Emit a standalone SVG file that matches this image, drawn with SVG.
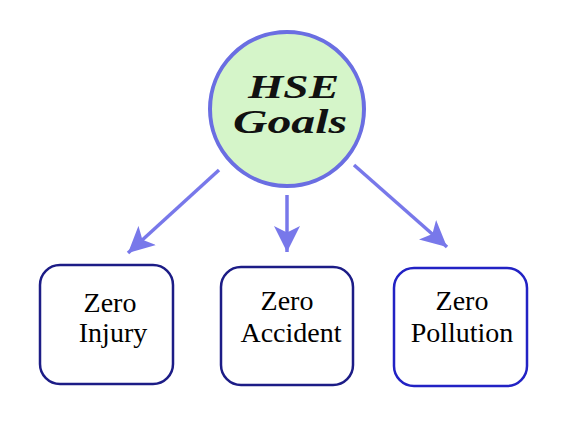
<svg xmlns="http://www.w3.org/2000/svg" width="576" height="426" viewBox="0 0 576 426">
<style>
.box{fill:#ffffff;stroke-width:2.5}
.lbl{font-family:"Liberation Serif","Times New Roman",serif;font-size:28px;fill:#000;text-anchor:middle}
.title{font-family:"Liberation Serif","Times New Roman",serif;font-weight:bold;font-style:italic;font-size:33px;fill:#111}
.conn{stroke:#7878ea;stroke-width:3.5;fill:none}
</style>
<defs>
<marker id="ahl" viewBox="0 0 24 24" refX="24" refY="12" markerWidth="26" markerHeight="26" markerUnits="userSpaceOnUse" orient="auto">
<path d="M0,0 L24,12 L0,24 L6,12 Z" fill="#7878ea"/>
</marker>
</defs>
<rect width="576" height="426" fill="#ffffff"/>
<g id="connectors">
<line class="conn" x1="219" y1="170" x2="128" y2="253" marker-end="url(#ahl)"/>
<line class="conn" x1="287" y1="195" x2="287" y2="252" marker-end="url(#ahl)"/>
<line class="conn" x1="354" y1="165" x2="447" y2="247" marker-end="url(#ahl)"/>
</g>
<g id="hse-goals">
<circle cx="287" cy="109" r="77" fill="#d5f5c9" stroke="#6a6ee2" stroke-width="4"/>
<text class="title" x="248" y="98" textLength="91" lengthAdjust="spacingAndGlyphs">HSE</text>
<text class="title" x="233" y="133" textLength="114" lengthAdjust="spacingAndGlyphs">Goals</text>
</g>
<g id="zero-injury">
<rect class="box" x="40" y="265" width="133" height="119" rx="20" stroke="#1c1c86"/>
<text class="lbl" x="110" y="312">Zero</text>
<text class="lbl" x="113" y="342">Injury</text>
</g>
<g id="zero-accident">
<rect class="box" x="221" y="267" width="132" height="118" rx="20" stroke="#1c1c86"/>
<text class="lbl" x="287" y="310">Zero</text>
<text class="lbl" x="291" y="342">Accident</text>
</g>
<g id="zero-pollution">
<rect class="box" x="394" y="268" width="133" height="118" rx="20" stroke="#2222c4"/>
<text class="lbl" x="462" y="310">Zero</text>
<text class="lbl" x="462" y="342">Pollution</text>
</g>
</svg>
